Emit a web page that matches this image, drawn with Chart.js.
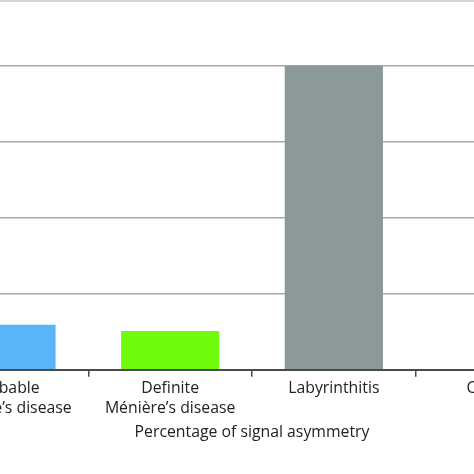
<!DOCTYPE html>
<html>
<head>
<meta charset="utf-8">
<script src="https://cdn.jsdelivr.net/npm/chart.js@4"></script>
<style>
  html, body { margin:0; padding:0; width:474px; height:474px; overflow:hidden; background:#fff; }
  #wrap { position:absolute; left:-160px; top:-20px; width:800px; height:494px; }
  #topline { position:absolute; left:0; top:0; width:474px; height:2px; background:#d6d6d6; z-index:2; }
</style>
</head>
<body>
<div id="topline"></div>
<div id="wrap"><canvas id="c" width="800" height="494"></canvas></div>
<script>
const categories = [
  ['Probable', 'Ménière’s disease'],
  ['Definite', 'Ménière’s disease'],
  ['Labyrinthitis'],
  ['Controls']
];
const values = [5.9, 5.1, 40, 0];
const barColors = ['#59b5f7', '#70fb0c', '#8c999b', '#cccccc'];
const yTicks = [0, 10, 20, 30, 40, 50];
const xTitle = 'Percentage of signal asymmetry';

const font = { family: '"Open Sans", "Noto Sans", sans-serif', size: 15.8, lineHeight: 1.27 };

new Chart(document.getElementById('c'), {
  type: 'bar',
  data: {
    labels: categories,
    datasets: [{
      data: values,
      backgroundColor: barColors,
      borderWidth: 0,
      barPercentage: 0.6,
      categoryPercentage: 1.0
    }]
  },
  options: {
    responsive: false,
    animation: false,
    devicePixelRatio: 1,
    layout: { padding: { left: 24.6, right: 60.6, top: 9.7, bottom: 0 } },
    plugins: { legend: { display: false }, tooltip: { enabled: false } },
    scales: {
      x: {
        offset: true,
        grid: { display: true, drawOnChartArea: false, drawTicks: true, tickLength: 7, color: '#4a4a4a', lineWidth: 1.5, offset: true },
        border: { display: true, color: '#4a4a4a', width: 2 },
        ticks: { color: '#222', font: font, padding: 2, maxRotation: 0, autoSkip: false },
        title: { display: true, text: xTitle, color: '#222', font: font, padding: { top: 2, bottom: 31 } },
        afterFit: (s) => { s.height = 104.3; }
      },
      y: {
        min: yTicks[0],
        max: yTicks[yTicks.length - 1],
        afterBuildTicks: (s) => { s.ticks = yTicks.map(v => ({ value: v })); },
        grid: { color: '#a8a8a8', lineWidth: 1.5, drawTicks: false },
        border: { display: false },
        ticks: { display: false },
        afterFit: (s) => { s.width = 60; }
      }
    }
  }
});
</script>
</body>
</html>
